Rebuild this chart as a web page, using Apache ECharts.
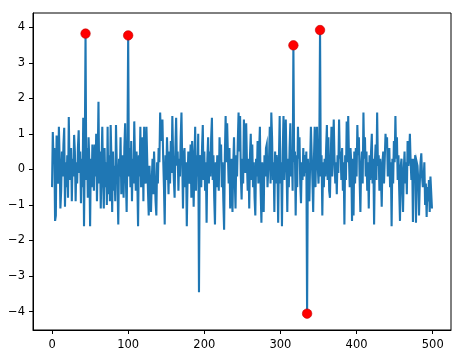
<!DOCTYPE html>
<html>
<head>
<meta charset="utf-8">
<script src="https://cdn.jsdelivr.net/npm/echarts@6/dist/echarts.min.js"></script>
<style>
html,body{margin:0;padding:0;background:#fff;}
#chart{width:460px;height:364px;}
</style>
</head>
<body>
<div id="chart"></div>
<script>
// Series values, in blocks of 100 samples
var seg0 = [-0.50,1.05,0.2,0.6,-1.45,-1.3,0.95,0.1,-0.4,1.2,
0.3,-1.1,-0.6,0.5,-0.2,0.7,1.17,-1.05,0.2,-0.5,
0.4,-0.8,1.47,0.1,-0.3,0.6,-0.9,0.3,-0.2,0.97,
0.5,-0.9,0.2,-0.4,0.6,1.1,-0.1,0.5,-0.95,0.3,
-0.5,1.45,-1.6,0.4,3.82,-0.3,0.6,-0.8,0.9,0.2,
-1.6,0.3,-0.5,0.7,0.1,-0.6,0.7,-0.2,1.0,-0.9,
0.3,1.9,-0.4,0.5,-1.1,0.2,1.2,-0.3,-1.1,0.6,
-0.5,0.2,-1.0,1.2,-0.7,0.4,-0.9,1.25,0.3,-1.2,
0.5,-0.6,0.1,-0.9,1.25,0.2,-0.4,-1.55,0.3,-0.2,
0.9,-0.7,0.1,0.4,-0.8,0.6,1.3,-0.3,-1.2,0.5];
var seg1 = [3.77,-0.2,0.6,-0.5,0.8,-0.9,0.3,-0.4,1.35,0.2,
-0.6,0.5,-0.3,-1.6,0.4,-0.2,1.2,-0.5,0.3,0.9,
-0.9,1.2,0.1,-0.4,1.2,0.3,-0.6,-1.3,0.1,-0.5,
-1.2,-0.3,0.3,-0.7,0.5,-0.2,-0.9,-1.3,0.2,-0.4,
0.6,0.2,1.6,0.8,1.1,1.4,0.3,-0.5,-1.55,0.4,
-0.3,0.9,0.2,-0.7,0.5,-0.4,0.8,-0.1,1.5,0.4,
-0.3,-0.8,0.6,1.45,0.1,0.5,-0.6,0.3,-0.2,0.9,
1.6,0.2,-1.1,0.4,0.6,-0.5,0.2,-1.6,-0.3,0.5,
-0.4,0.1,0.7,-0.8,0.8,0.3,-1.05,0.2,1.2,-0.6,
0.4,-0.2,1.0,-3.46,0.2,0.4,-0.5,0.6,1.25,-0.3];
var seg2 = [0.5,-0.6,0.2,-1.5,0.3,0.9,-0.4,0.5,-0.2,0.9,
1.45,-0.3,0.4,-0.8,-1.55,0.2,-0.5,0.4,0.0,-0.6,
0.9,0.3,0.7,-0.5,0.2,-0.9,-1.7,0.4,1.5,0.2,
1.3,0.4,-0.4,0.6,-1.1,-0.2,0.3,-1.2,0.1,0.9,
-0.3,-1.1,0.4,-0.2,0.8,1.6,0.5,1.5,-0.2,-0.85,
0.3,-0.4,1.4,0.6,-0.1,1.3,0.2,-0.6,0.3,-1.1,
0.4,1.0,-0.3,0.7,-0.5,0.2,-0.8,-1.3,0.3,-0.2,
0.8,-0.4,0.5,1.2,-0.6,-1.5,0.2,-0.3,-1.2,0.4,
-0.2,0.6,0.7,-0.5,0.0,0.3,1.2,-0.4,1.6,0.9,
-0.3,0.2,-1.2,0.5,-0.4,0.4,0.1,-1.5,0.3,1.5];
var seg3 = [-0.4,0.2,-1.6,0.5,1.5,-0.3,0.4,1.4,0.1,-1.2,
0.3,-0.5,0.6,1.3,-0.2,0.4,-0.6,3.49,0.2,0.5,
-1.3,0.4,-0.5,1.2,0.3,0.9,-0.4,-0.95,0.2,-0.3,
0.6,-0.2,0.4,-0.1,0.5,-4.06,0.3,-0.4,-0.9,0.2,
1.2,0.4,-0.3,-1.2,0.3,1.2,-0.5,0.6,1.2,0.1,
-0.4,0.5,3.92,-0.2,0.4,-1.3,0.2,-0.5,0.3,-0.2,
0.6,1.25,-0.3,0.9,-0.6,-0.8,0.3,1.2,-0.2,0.5,
1.4,0.3,-0.4,0.2,-0.7,0.4,-0.1,1.4,0.3,0.5,
-0.3,0.6,-0.6,0.2,-1.55,0.4,-0.3,1.35,0.2,1.5,
0.3,-0.5,0.6,0.2,-1.45,0.3,-1.3,0.5,-0.4,0.6];
var seg4 = [-0.2,1.25,0.4,0.9,-0.3,-1.2,0.1,0.5,-0.4,1.6,
0.3,0.9,-0.2,0.5,-0.6,0.2,-1.1,0.4,-0.3,0.5,
1.0,-0.4,0.3,-1.55,0.2,0.7,-0.3,1.6,0.1,0.4,
-0.6,0.3,-0.2,-1.05,0.2,0.5,-0.4,0.3,1.0,0.6,
0.9,-0.2,0.4,0.6,-0.5,0.2,-1.6,0.3,-0.4,0.8,
0.2,1.5,0.3,0.9,-0.3,0.4,-0.6,-1.45,0.1,0.3,
-0.5,-1.2,0.0,0.5,-0.4,0.2,-0.7,0.8,0.1,0.4,
1.0,0.2,-0.3,0.3,-1.48,0.3,-0.2,0.4,-1.5,0.2,
0.1,-0.3,-1.3,-0.4,0.2,0.45,-0.2,-0.5,-0.3,0.2,
-1.0,-0.4,-1.34,-0.5,-0.9,-0.3,-1.2,-0.2,-0.25,-1.1];
// positions (sample indices) of the red-marked outliers
var outlierIdx = [44, 100, 317, 335, 352];
// tick labels
var xTicks = [0, 100, 200, 300, 400, 500];
var yTicks = [-4, -3, -2, -1, 0, 1, 2, 3, 4];

var values = seg0.concat(seg1, seg2, seg3, seg4);
var lineData = values.map(function (v, i) { return [i, v]; });
var outData = outlierIdx.map(function (i) { return [i, values[i]]; });

var chart = echarts.init(document.getElementById('chart'), null, {renderer: 'canvas'});
var lbl = {color: '#000', fontFamily: 'DejaVu Sans', fontSize: 11.5};
chart.setOption({
  animation: false,
  backgroundColor: '#fff',
  grid: {left: 33, top: 13, right: 9, bottom: 34, show: true, borderColor: '#000', borderWidth: 1, backgroundColor: 'transparent'},
  xAxis: {
    type: 'value', min: -25, max: 524, interval: 100,
    splitLine: {show: false},
    axisLine: {show: true, onZero: false, lineStyle: {color: '#000', width: 1}},
    axisTick: {show: true, inside: false, length: 4, lineStyle: {color: '#000'},
      customValues: xTicks},
    axisLabel: Object.assign({margin: 9, customValues: xTicks,
      formatter: function (v) { return xTicks.indexOf(v) >= 0 ? String(v) : ''; }}, lbl)
  },
  yAxis: {
    type: 'value', min: -4.52, max: 4.4,
    splitLine: {show: false},
    axisLine: {show: true, onZero: false, lineStyle: {color: '#000', width: 1}},
    axisTick: {show: true, inside: false, length: 4, lineStyle: {color: '#000'},
      customValues: yTicks},
    axisLabel: Object.assign({margin: 8, customValues: yTicks,
      formatter: function (v) { return v < 0 ? '\u2212' + Math.abs(v) : String(v); }}, lbl)
  },
  series: [
    {type: 'line', data: lineData, showSymbol: false, symbol: 'none',
     lineStyle: {color: '#1f77b4', width: 2.1, join: 'miter'}, z: 2},
    {type: 'scatter', data: outData, symbol: 'circle', symbolSize: 9.5,
     itemStyle: {color: '#ff0000', borderColor: '#c00000', borderWidth: 0.6, opacity: 1}, z: 3}
  ]
});
</script>
</body>
</html>
